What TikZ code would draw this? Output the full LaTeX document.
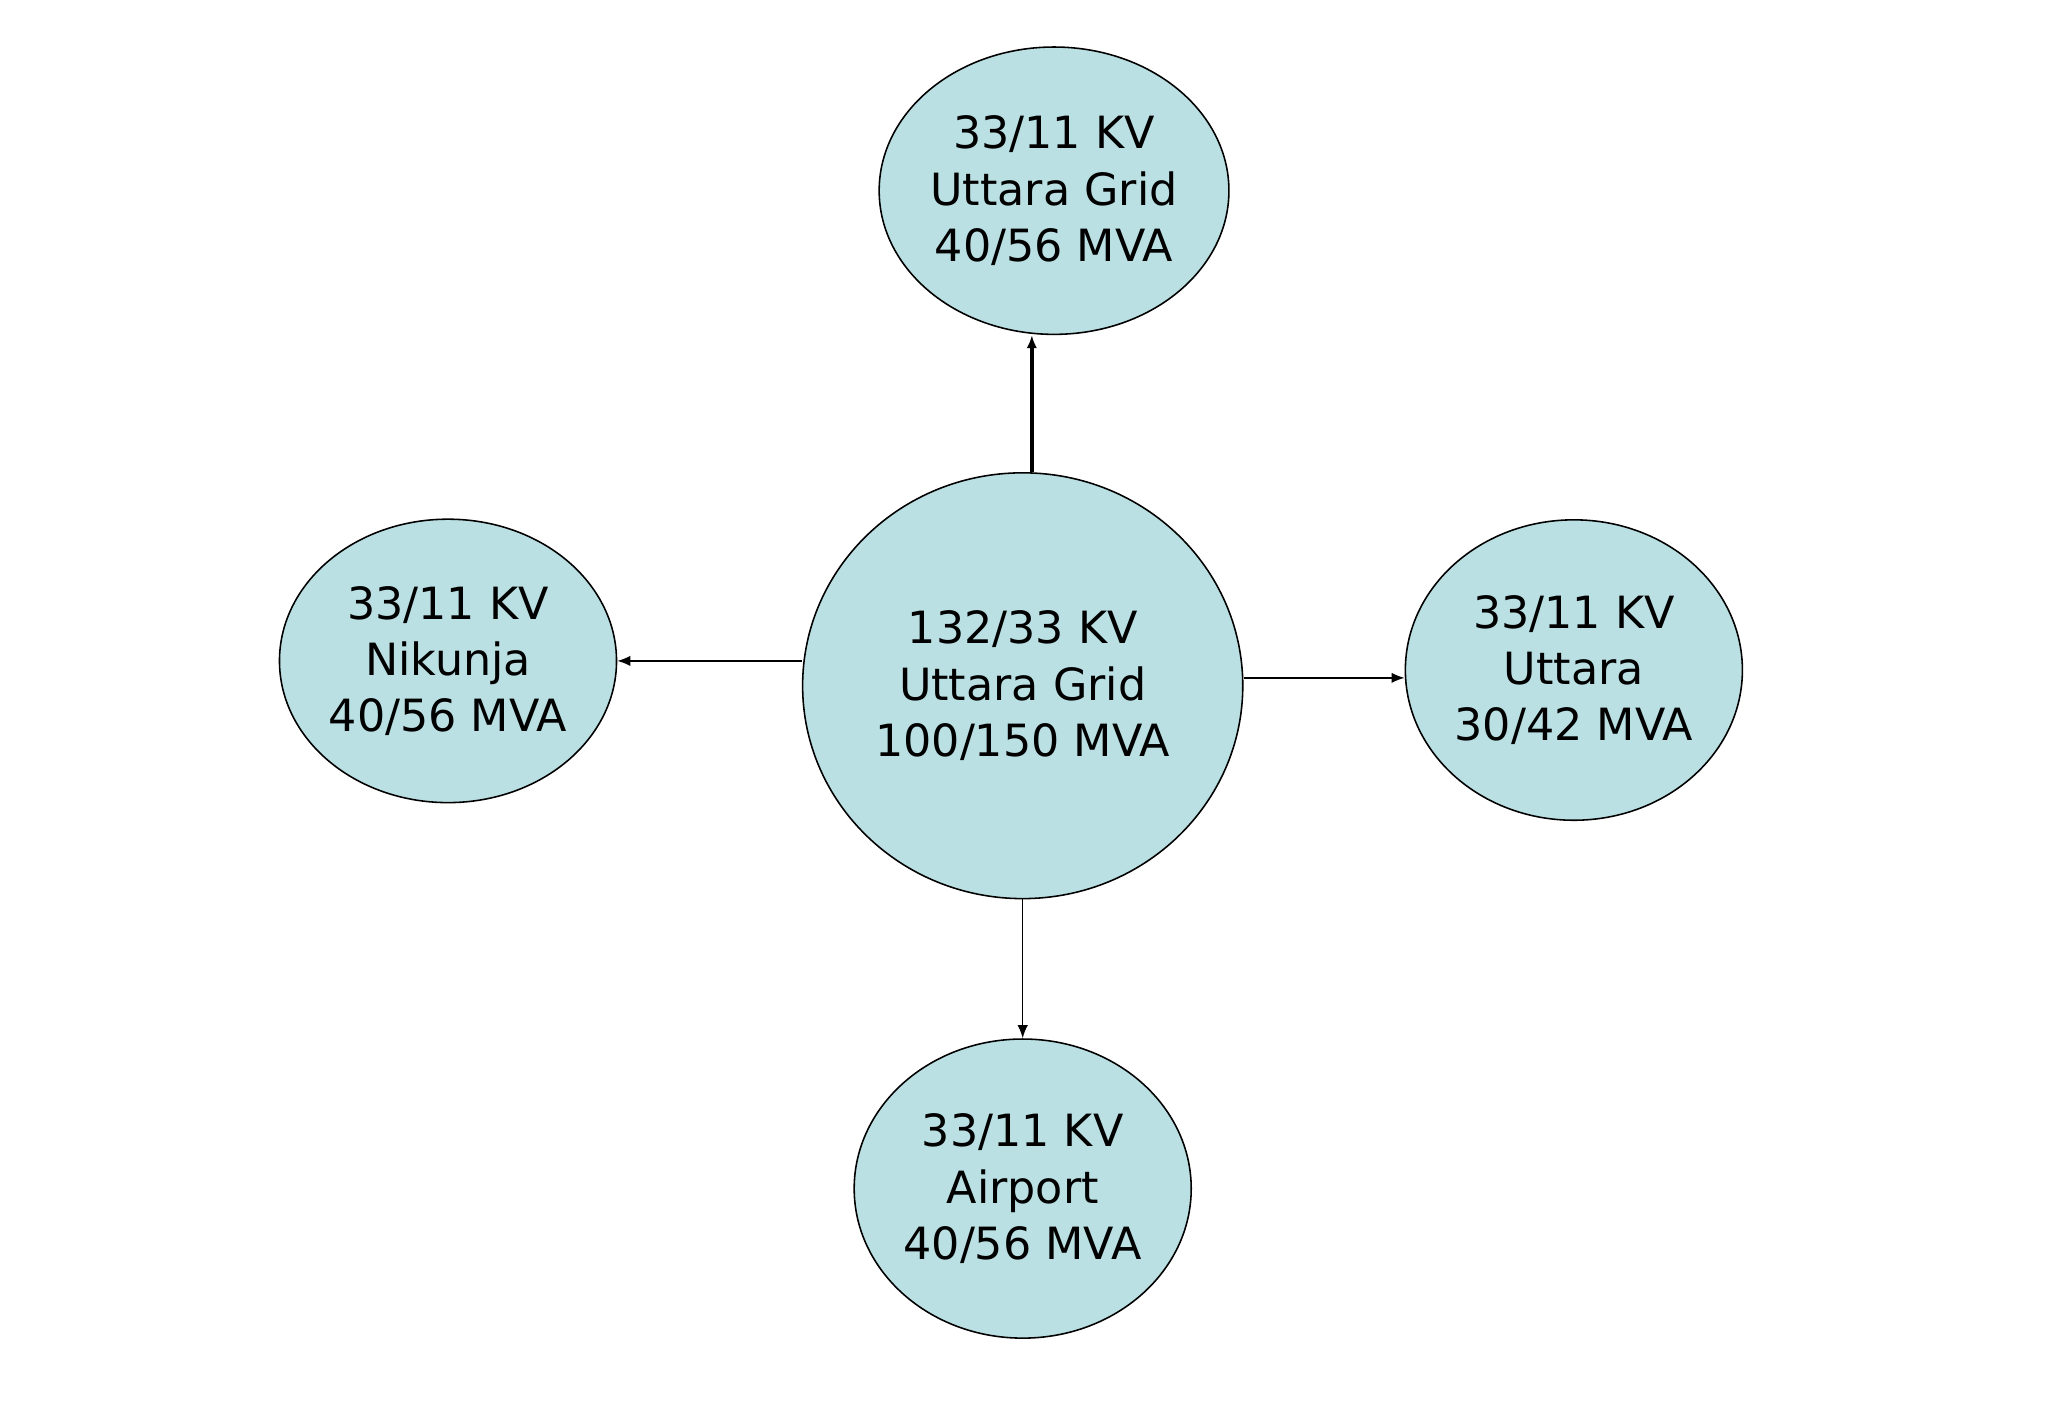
\documentclass[tikz,border=0pt]{standalone}
\usepackage{fontspec}
\setmainfont{DejaVu Sans}
\usetikzlibrary{shapes.geometric,arrows.meta}
\definecolor{bub}{HTML}{BAE0E3}
\begin{document}
\begin{tikzpicture}[x=0.5pt,y=-0.5pt,
  bubble/.style={ellipse,draw=black,line width=0.6pt,fill=bub,inner sep=0pt,align=center,
    font=\fontsize{17}{21.5}\selectfont},
  conn/.style={-{Latex[length=5pt,width=4pt]},line width=0.6pt}]
\fill[white] (0,0) rectangle (1568,1085.6);
\node[bubble,minimum width=337\pgflinewidth*0+168.5pt,minimum height=163pt] (c) at (783,525) {132/33 KV\\Uttara Grid\\100/150 MVA};
\node[bubble,minimum width=120.5pt,minimum height=110pt] (t) at (807,146) {33/11 KV\\Uttara Grid\\40/56 MVA};
\node[bubble,minimum width=114.5pt,minimum height=108.5pt] (l) at (343,506) {33/11 KV\\Nikunja\\40/56 MVA};
\node[bubble,minimum width=120.5pt,minimum height=115pt] (r) at (1205,513) {33/11 KV\\Uttara\\30/42 MVA};
\node[bubble,minimum width=120.5pt,minimum height=114.5pt] (b) at (783,910) {33/11 KV\\Airport\\40/56 MVA};
\draw[conn,line width=1.4pt] ([xshift=3.5pt]c.north) -- ([xshift=3.5pt]c.north |- t.south);
\draw[conn] (l.east -| c.west) -- (l.east);
\draw[conn] ([yshift=-3pt]r.west -| c.east) -- ([yshift=-3pt]r.west);
\draw[conn] (c.south) -- (b.north);
\end{tikzpicture}
\end{document}
